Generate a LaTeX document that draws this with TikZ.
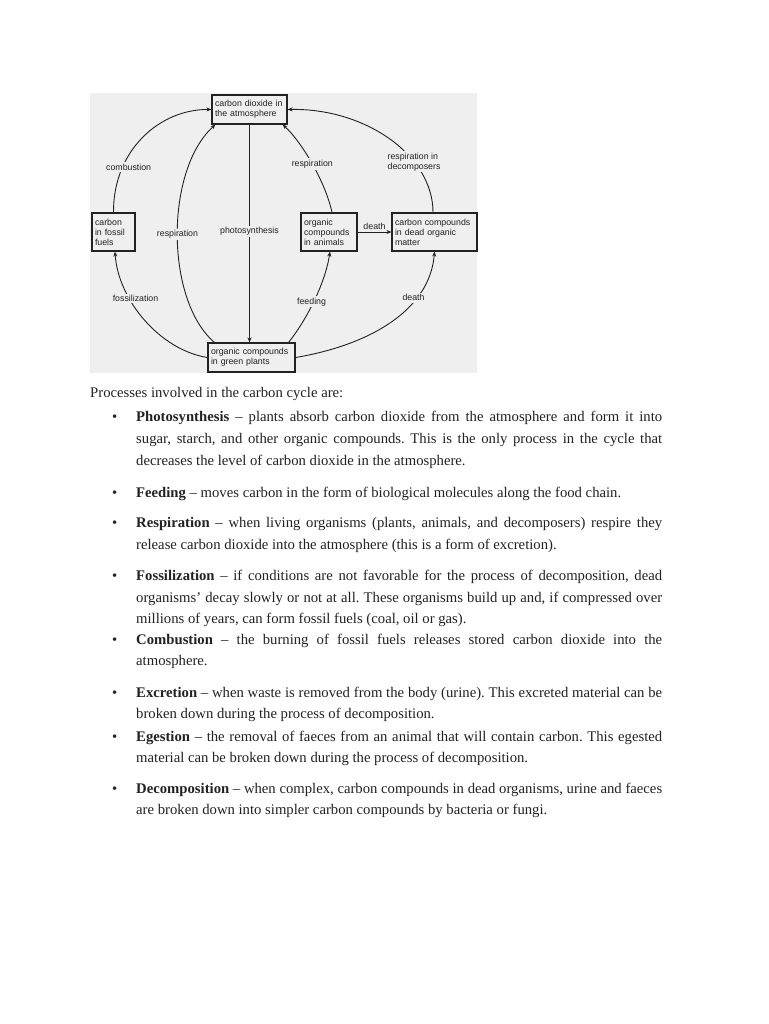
\documentclass[tikz,border=0pt]{standalone}
\usepackage{fontspec}
\setmainfont{Liberation Serif}
\newfontfamily\diafont{Liberation Sans}
\usetikzlibrary{arrows.meta}
\definecolor{bggray}{HTML}{EFEFEF}
\definecolor{ink}{HTML}{222222}
\newcommand{\jline}[1]{\hbox to 526pt{#1}}
\frenchspacing
\begin{document}
\begin{tikzpicture}[x=1pt,y=-1pt,
  box/.style={draw=ink, line width=1.1pt, fill=bggray, text=ink,
    font=\diafont\fontsize{8.8}{10}\selectfont, align=left,
    inner xsep=3pt, inner ysep=2pt, anchor=center},
  lab/.style={fill=bggray, inner sep=1.5pt, text=ink,
    font=\diafont\fontsize{8.8}{10}\selectfont, align=left},
  arr/.style={draw=ink, line width=0.9pt, -{Stealth[length=5pt,width=4pt]}},
  body/.style={anchor=base west, inner sep=0pt, text=ink,
    font=\fontsize{14.7}{17}\selectfont},
  bul/.style={anchor=base west, inner sep=0pt, text=ink,
    font=\fontsize{14.7}{17}\selectfont}]
\useasboundingbox (0,0) rectangle (768,1024);
\fill[white] (0,0) rectangle (768,1024);
% diagram background
\fill[bggray] (90,93) rectangle (477,373);
% boxes
\node[box, minimum width=75pt, minimum height=29pt, text width=69pt] (co2) at (249.5,109.5) {carbon dioxide in\\the atmosphere};
\node[box, minimum width=43pt, minimum height=38pt, text width=37pt] (fossil) at (113.5,232) {carbon\\in fossil\\fuels};
\node[box, minimum width=56pt, minimum height=38pt, text width=50pt] (animals) at (329,232) {organic\\compounds\\in animals};
\node[box, minimum width=85pt, minimum height=38pt, text width=79pt] (dead) at (434.5,232) {carbon compounds\\in dead organic\\matter};
\node[box, minimum width=87pt, minimum height=29pt, text width=81pt] (plants) at (251.5,357.5) {organic compounds\\in green plants};
% connectors
\draw[arr] (fossil.north) .. controls (113,150) and (160,109) .. (co2.west)
  node[lab, pos=0.27, xshift=6pt] {combustion};
\draw[arr] ([xshift=7pt]plants.north west) .. controls (165,300) and (165,170) .. ([xshift=4pt]co2.south west)
  node[lab, pos=0.5] {respiration};
\draw[arr] (co2.south) -- (co2.south |- plants.north)
  node[lab, pos=0.49] {photosynthesis};
\draw[arr] ([xshift=3pt]animals.north) .. controls (325,180) and (300,140) .. ([xshift=-5pt]co2.south east)
  node[lab, pos=0.48] {respiration};
\draw[arr] ([xshift=-1.5pt]dead.north) .. controls (433,155) and (365,108) .. (co2.east)
  node[lab, pos=0.32] {respiration in\\decomposers};
\draw[arr] (animals.east) -- (dead.west)
  node[midway, above, inner sep=2pt, text=ink, font=\diafont\fontsize{8.8}{10}\selectfont] {death};
\draw[arr] ([xshift=-7pt]plants.north east) .. controls (305,322) and (325,285) .. ([xshift=1pt]animals.south)
  node[lab, pos=0.5, xshift=-2pt] {feeding};
\draw[arr] (plants.east) .. controls (370,345) and (430,310) .. (dead.south)
  node[lab, pos=0.7, xshift=-3pt] {death};
\draw[arr] (plants.west) .. controls (160,350) and (118,300) .. ([xshift=1.5pt]fossil.south)
  node[lab, pos=0.67, xshift=6pt] {fossilization};
% text
\node[body] (t0) at (90,397.5) {Processes involved in the carbon cycle are:};
\foreach \y/\n in {421/b1,497/b2,527/b3,580/b4,644/b5,697/b6,741/b7,793/b8}
  \node[bul] (\n) at (112,\y) {•};
\node[body] (p1) at (136,421) {\jline{\textbf{Photosynthesis} – plants absorb carbon dioxide from the atmosphere and form it into}};
\node[body] (p2) at (136,443) {\jline{sugar, starch, and other organic compounds. This is the only process in the cycle that}};
\node[body] (p3) at (136,465) {decreases the level of carbon dioxide in the atmosphere.};
\node[body] (f1) at (136,497) {\textbf{Feeding} – moves carbon in the form of biological molecules along the food chain.};
\node[body] (r1) at (136,527) {\jline{\textbf{Respiration} – when living organisms (plants, animals, and decomposers) respire they}};
\node[body] (r2) at (136,549) {release carbon dioxide into the atmosphere (this is a form of excretion).};
\node[body] (z1) at (136,580) {\jline{\textbf{Fossilization} – if conditions are not favorable for the process of decomposition, dead}};
\node[body] (z2) at (136,602) {\jline{organisms’ decay slowly or not at all. These organisms build up and, if compressed over}};
\node[body] (z3) at (136,623) {millions of years, can form fossil fuels (coal, oil or gas).};
\node[body] (c1) at (136,644) {\jline{\textbf{Combustion} – the burning of fossil fuels releases stored carbon dioxide into the}};
\node[body] (c2) at (136,665) {atmosphere.};
\node[body] (e1) at (136,697) {\jline{\textbf{Excretion} – when waste is removed from the body (urine). This excreted material can be}};
\node[body] (e2) at (136,718) {broken down during the process of decomposition.};
\node[body] (g1) at (136,741) {\jline{\textbf{Egestion} – the removal of faeces from an animal that will contain carbon. This egested}};
\node[body] (g2) at (136,762) {material can be broken down during the process of decomposition.};
\node[body] (d1) at (136,793) {\jline{\textbf{Decomposition} – when complex, carbon compounds in dead organisms, urine and faeces}};
\node[body] (d2) at (136,814) {are broken down into simpler carbon compounds by bacteria or fungi.};
\end{tikzpicture}
\end{document}
